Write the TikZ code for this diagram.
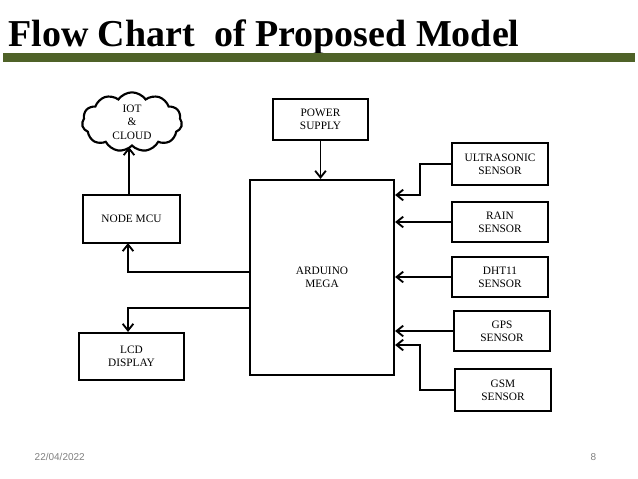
\documentclass[tikz,border=0pt]{standalone}
\usepackage{fontspec}
\setmainfont{Liberation Serif}
\newfontfamily\sans{Liberation Sans}
\usetikzlibrary{shapes.symbols,arrows.meta}
\begin{document}
\begin{tikzpicture}[x=0.75pt,y=-0.75pt,
  box/.style={draw,line width=1.6pt,align=center,font=\fontsize{8.5}{10}\selectfont,inner sep=0pt},
  arr/.style={line width=1.4pt,-{Straight Barb[length=5pt,width=8pt]}},
  ln/.style={line width=1.4pt}]
\useasboundingbox (0,0) rectangle (638,478);
\node[anchor=base west,font=\fontsize{28.5}{32}\selectfont\bfseries,inner sep=0pt] (title) at (8,47) {Flow Chart\ \ of Proposed Model};
\fill[fill={rgb,255:red,79;green,98;blue,40}] (3,53) rectangle (635,62);
\node[box,cloud,cloud puffs=11,cloud puff arc=110,aspect=1.8,minimum width=100pt*0.75,minimum height=55pt*0.75] (cloud) at (132,122) {IOT\\\&\\CLOUD};
\node[box,minimum width=95*0.75pt,minimum height=41*0.75pt] (power) at (320.5,119.5) {POWER\\SUPPLY};
\node[box,minimum width=144*0.75pt,minimum height=195*0.75pt] (ard) at (322,277.5) {ARDUINO\\MEGA};
\node[box,minimum width=96*0.75pt,minimum height=42*0.75pt] (ultra) at (500,164) {ULTRASONIC\\SENSOR};
\node[box,minimum width=96*0.75pt,minimum height=40*0.75pt] (rain) at (500,222) {RAIN\\SENSOR};
\node[box,minimum width=96*0.75pt,minimum height=40*0.75pt] (dht) at (500,277) {DHT11\\SENSOR};
\node[box,minimum width=96*0.75pt,minimum height=40*0.75pt] (gps) at (502,331) {GPS\\SENSOR};
\node[box,minimum width=96*0.75pt,minimum height=42*0.75pt] (gsm) at (503,390) {GSM\\SENSOR};
\node[box,minimum width=97*0.75pt,minimum height=48*0.75pt] (mcu) at (131.5,219) {NODE MCU};
\node[box,minimum width=105*0.75pt,minimum height=47*0.75pt] (lcd) at (131.5,356.5) {LCD\\DISPLAY};
\draw[arr] (power.south) -- (ard.north -| power.south);
\draw[arr] (ultra.west) -- ++(-31,0) |- (ard.east |- 0,195);
\draw[arr] (rain.west) -- (ard.east |- rain.west);
\draw[arr] (dht.west) -- (ard.east |- dht.west);
\draw[arr] (gps.west) -- (ard.east |- gps.west);
\draw[arr] (gsm.west) -- ++(-34,0) |- (ard.east |- 0,345);
\draw[arr] (ard.west |- 0,272) -| (128,243);
\draw[arr] (mcu.north -| 129,0) -- (cloud.south -| 129,0);
\draw[arr] (ard.west |- 0,308) -| (lcd.north -| 128,0);
\node[anchor=base west,font=\sans\fontsize{7.5}{9}\selectfont,text=gray] (date) at (30,460) {22/04/2022};
\node[anchor=base east,font=\sans\fontsize{7.5}{9}\selectfont,text=gray] (pg) at (601,460) {8};
\end{tikzpicture}
\end{document}
